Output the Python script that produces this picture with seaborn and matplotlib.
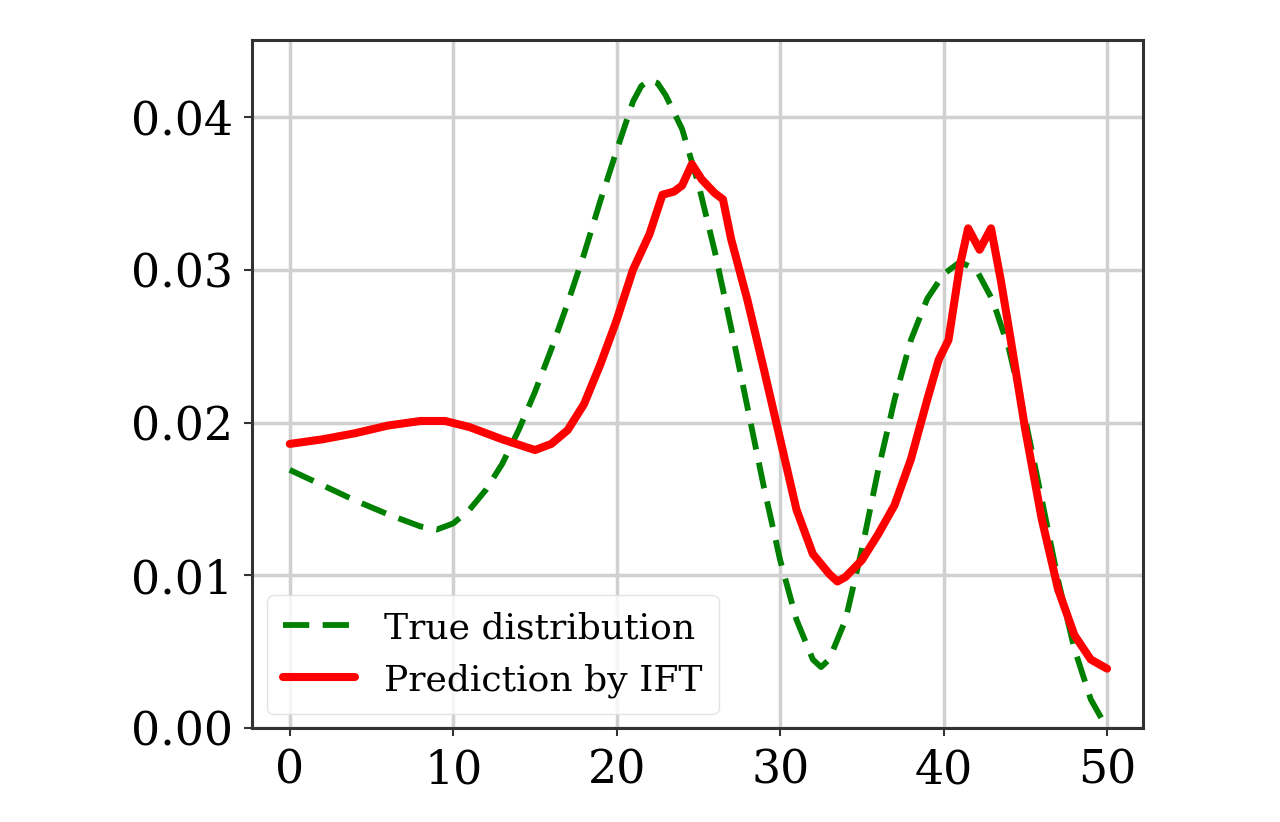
import matplotlib
matplotlib.use("Agg")
import matplotlib.pyplot as plt
import seaborn as sns
import pandas as pd

# True distribution
true_x = [0, 2, 4, 6, 8, 9, 10, 11, 12, 13, 14, 15, 16, 17, 18, 19, 20, 21, 21.5, 22, 22.5,
          23, 24, 25, 26, 27, 28, 29, 30, 31, 32, 32.5, 33, 34, 35, 36, 37, 38, 39, 40,
          41, 42, 43, 44, 45, 46, 47, 48, 49, 50]
true_y = [0.0169, 0.0159, 0.0149, 0.0140, 0.0132, 0.0130, 0.0134, 0.0143, 0.0156, 0.0173,
          0.0195, 0.0220, 0.0248, 0.0278, 0.0310, 0.0345, 0.0378, 0.0410, 0.0420, 0.0424,
          0.0422, 0.0414, 0.0392, 0.0356, 0.0312, 0.0262, 0.0210, 0.0158, 0.0110, 0.0071,
          0.0045, 0.0040, 0.0045, 0.0071, 0.0117, 0.0169, 0.0215, 0.0254, 0.0281, 0.0297,
          0.0305, 0.0300, 0.0280, 0.0248, 0.0202, 0.0150, 0.0097, 0.0052, 0.0019, 0.0000]

# Prediction by IFT
pred_x = [0, 2, 4, 6, 8, 9.5, 11, 13, 15, 16, 17, 18, 19, 20, 21, 22, 22.8, 23.5, 24, 24.6,
          25.2, 26, 26.5, 27, 28, 29, 30, 31, 32, 33, 33.5, 34, 35, 36, 37, 38, 39, 39.7,
          40.3, 41, 41.5, 42.2, 42.9, 43.5, 44, 45, 46, 47, 48, 49, 50]
pred_y = [0.0186, 0.0189, 0.0193, 0.0198, 0.0201, 0.0201, 0.0197, 0.0189, 0.0182, 0.0186,
          0.0195, 0.0212, 0.0238, 0.0267, 0.0300, 0.0323, 0.0349, 0.0351, 0.0355, 0.0369,
          0.0359, 0.0350, 0.0346, 0.0320, 0.0280, 0.0235, 0.0189, 0.0143, 0.0114, 0.0101,
          0.0096, 0.0099, 0.0110, 0.0127, 0.0146, 0.0176, 0.0215, 0.0241, 0.0254, 0.0303,
          0.0327, 0.0313, 0.0327, 0.0293, 0.0261, 0.0195, 0.0137, 0.0091, 0.0061, 0.0045,
          0.0039]

sns.set_style("whitegrid")
plt.rcParams["font.family"] = ["DejaVu Serif"]

true_df = pd.DataFrame({"x": true_x, "y": true_y})
pred_df = pd.DataFrame({"x": pred_x, "y": pred_y})

fig = plt.figure(figsize=(12.8, 8.22), dpi=100)
ax = fig.add_axes([0.197, 0.114, 0.696, 0.837])

sns.lineplot(data=true_df, x="x", y="y", ax=ax, color="green", linewidth=4.2,
             label="True distribution")
ax.lines[-1].set_dashes((4.5, 2.3))
sns.lineplot(data=pred_df, x="x", y="y", ax=ax, color="red", linewidth=5.8,
             label="Prediction by IFT")

ax.set_xlim(-2.3, 52.2)
ax.set_ylim(0, 0.045)
ax.set_xticks([0, 10, 20, 30, 40, 50])
ax.set_yticks([0.00, 0.01, 0.02, 0.03, 0.04])
ax.set_yticklabels(["0.00", "0.01", "0.02", "0.03", "0.04"])
ax.set_xlabel("")
ax.set_ylabel("")
ax.tick_params(axis="both", labelsize=33, length=6, width=1.5, color="#333333",
               labelcolor="black", bottom=True, left=True, pad=8)
ax.grid(True, linewidth=2.5, color="#d0d0d0")
for s in ax.spines.values():
    s.set_linewidth(2.2)
    s.set_color("#333333")

leg = ax.legend(loc="lower left", fontsize=26, frameon=True, handlelength=2.0,
                borderpad=0.45, labelspacing=0.5, borderaxespad=0.4)
leg.get_frame().set_edgecolor("#dddddd")
for t in leg.get_texts():
    t.set_color("black")

fig.savefig("out.png", dpi=100)
